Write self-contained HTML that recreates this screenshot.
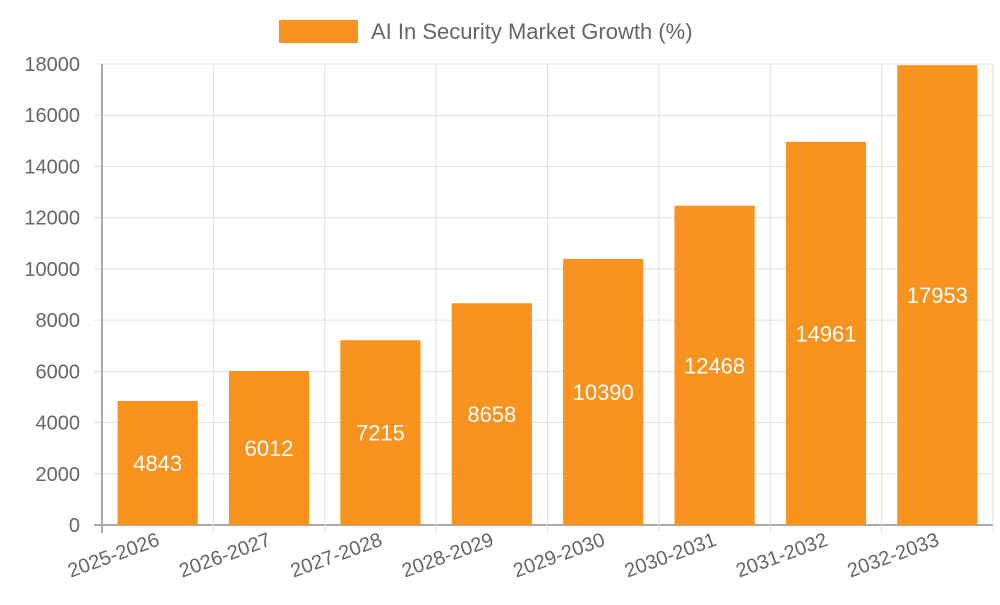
<!DOCTYPE html>
<html><head><meta charset="utf-8"><style>
body{margin:0;background:#fff;width:1000px;height:600px;overflow:hidden}
svg text{font-family:"Liberation Sans",sans-serif}
</style></head><body>
<svg id="chart" width="1000" height="600">
<g>
<rect x="279" y="20" width="79" height="23" fill="#f7931e"/>
<text x="371" y="39" font-size="22" fill="#666">AI In Security Market Growth (%)</text>
</g>
<g id="grid"></g><g id="bars"></g><g id="labels"></g>
</svg>
<script>
const categories=["2025-2026","2026-2027","2027-2028","2028-2029","2029-2030","2030-2031","2031-2032","2032-2033"];
const values=[4843,6012,7215,8658,10390,12468,14961,17953];
const yTicks=[0,2000,4000,6000,8000,10000,12000,14000,16000,18000];
const NS="http://www.w3.org/2000/svg";
const L=102,R=993,T=64,B=525,yMax=18000;
const bw=(R-L)/categories.length;
const y=v=>B-(v/yMax)*(B-T);
const x=i=>L+i*bw;
function mk(tag,attrs,parent,text){const e=document.createElementNS(NS,tag);for(const k in attrs)e.setAttribute(k,attrs[k]);if(text!==undefined)e.textContent=text;document.getElementById(parent).appendChild(e);return e;}
yTicks.forEach(t=>{
 const g=mk('line',{x1:94,x2:R,y1:y(t),y2:y(t),stroke:t===0?'#aaa':'#e0e0e0','stroke-width':t===0?2:1},'grid');
 
 
 const tx=mk('text',{x:80,y:y(t)+7,'text-anchor':'end','font-size':20,fill:'#666'},'labels',String(t));
 
 
});
for(let i=0;i<=categories.length;i++){
 const g=mk('line',{x1:x(i),x2:x(i),y1:T,y2:B+8,stroke:i===0?'#aaa':'#e0e0e0','stroke-width':i===0?2:1},'grid');
 
 
}
categories.forEach((c,i)=>{
 const cx=x(i)+bw/2,w=bw*0.72;
 const r=mk('rect',{x:cx-w/2,y:y(values[i]),width:w,height:B-y(values[i]),fill:'#f7931e'},'bars');
 
 
 const v=mk('text',{x:cx,y:(y(values[i])+B)/2+8,'text-anchor':'middle','font-size':22,fill:'#fff'},'labels',String(values[i]));
 
 
 const lx=cx+3,ly=545;
 const t=mk('text',{x:lx,y:ly,'text-anchor':'end','font-size':20,fill:'#666',transform:`rotate(-20 ${lx} ${ly})`},'labels',c);
 
 
});
</script>
</body></html>
